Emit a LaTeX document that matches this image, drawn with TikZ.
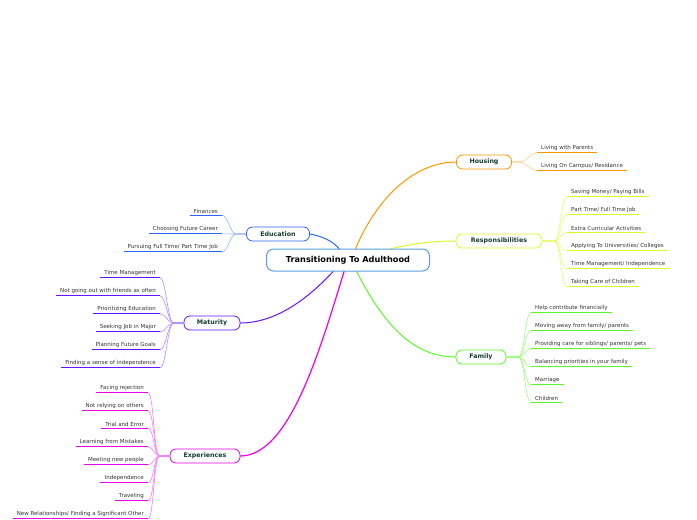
\documentclass[tikz,border=0pt]{standalone}
\usepackage{fontspec}
\setmainfont{DejaVu Sans}
\begin{document}
\begin{tikzpicture}[x=1pt,y=-1pt,
  mainbox/.style={draw=#1,line width=0.8pt,rounded corners=6pt,fill=white,minimum height=14pt,font=\fontsize{6.3}{7}\selectfont\bfseries,text=mtxt,inner xsep=8pt},
  leaf/.style={font=\fontsize{5.5}{6}\selectfont,text=black!80,inner sep=2pt,inner xsep=4pt},
  lnL/.style={draw=#1,line width=1.1pt},
  con/.style={draw=#1,line width=0.6pt}]
\useasboundingbox (0,0) rectangle (697,520);
\definecolor{mtxt}{RGB}{20,60,50}
\definecolor{cedu}{RGB}{40,100,255}
\definecolor{cmat}{RGB}{100,20,255}
\definecolor{cexp}{RGB}{235,0,235}
\definecolor{chou}{RGB}{255,150,0}
\definecolor{cres}{RGB}{220,250,40}
\definecolor{cfam}{RGB}{90,250,40}
\definecolor{ccen}{RGB}{90,160,225}
% main connectors
\draw[cedu,line width=1pt] (340,250) .. controls (333,240) and (320,236) .. (310,234);
\draw[cmat,line width=1pt] (345,258) .. controls (310,300) and (275,323) .. (240,323);
\draw[cexp,line width=1.2pt] (347,262) .. controls (320,350) and (290,456) .. (240,456);
\draw[chou,line width=1pt] (355,250) .. controls (380,190) and (420,162) .. (456,162);
\draw[cres,line width=1pt] (390,249) .. controls (410,244) and (430,241) .. (456,241);
\draw[cfam,line width=1pt] (352,262) .. controls (380,320) and (410,357) .. (456,357);
\node[draw=ccen,line width=1pt,rounded corners=7pt,fill=white,minimum width=163pt,minimum height=22pt,font=\fontsize{8.2}{9}\selectfont\bfseries] (c) at (348,260) {Transitioning To Adulthood};
\node[mainbox=cedu,minimum width=63pt] (edu) at (278,234) {Education};
\node[mainbox=cmat,minimum width=56pt] (mat) at (212,323) {Maturity};
\node[mainbox=cexp,minimum width=70pt] (exp) at (205,456) {Experiences};
\node[mainbox=chou,minimum width=55pt] (hou) at (484,162) {Housing};
\node[mainbox=cres,minimum width=86pt] (res) at (499,241) {Responsibilities};
\node[mainbox=cfam,minimum width=50pt] (fam) at (481,357) {Family};
% left leaves
\foreach \t/\y [count=\i] in {{Finances}/211,{Choosing Future Career}/229,{Pursuing Full Time/ Part Time Job}/247}{
  \node[leaf,anchor=east] (e\i) at (222,\y) {\t};
  \draw[lnL=cedu] (e\i.south west) -- (e\i.south east);
  \draw[con=cedu!50] (edu.west) -- ++(-10,0) .. controls +(-6,0) and +(6,0) .. (e\i.south east);
}
\foreach \t/\y [count=\i] in {{Time Management}/273,{Not going out with friends as often}/291,{Prioritizing Education}/309,{Seeking Job in Major}/327,{Planning Future Goals}/345,{Finding a sense of independence}/363}{
  \node[leaf,anchor=east] (m\i) at (160,\y) {\t};
  \draw[lnL=cmat] (m\i.south west) -- (m\i.south east);
  \draw[con=cmat!50] (mat.west) -- ++(-10,0) .. controls +(-6,0) and +(6,0) .. (m\i.south east);
}
\foreach \t/\y [count=\i] in {{Facing rejection}/388,{Not relying on others}/406,{Trial and Error}/424,{Learning from Mistakes}/442,{Meeting new people}/460,{Independence}/478,{Traveling}/496,{New Relationships/ Finding a Significant Other}/514}{
  \node[leaf,anchor=east] (x\i) at (148,\y) {\t};
  \draw[lnL=cexp] (x\i.south west) -- (x\i.south east);
  \draw[con=cexp!50] (exp.west) -- ++(-10,0) .. controls +(-6,0) and +(6,0) .. (x\i.south east);
}
% right leaves
\foreach \t/\y [count=\i] in {{Living with Parents}/148,{Living On Campus/ Residance}/166}{
  \node[leaf,anchor=west] (h\i) at (537,\y) {\t};
  \draw[lnL=chou] (h\i.south west) -- (h\i.south east);
  \draw[con=chou!50] (hou.east) -- ++(8,0) .. controls +(6,0) and +(-6,0) .. (h\i.south west);
}
\foreach \t/\y [count=\i] in {{Saving Money/ Paying Bills}/192,{Part Time/ Full Time Job}/210,{Extra Curricular Activities}/228,{Applying To Universities/ Colleges}/246,{Time Management/ Independence}/264,{Taking Care of Children}/282}{
  \node[leaf,anchor=west] (r\i) at (567,\y) {\t};
  \draw[lnL=cres] (r\i.south west) -- (r\i.south east);
  \draw[con=cres!70] (res.east) -- ++(12,0) .. controls +(6,0) and +(-6,0) .. (r\i.south west);
}
\foreach \t/\y [count=\i] in {{Help contribute financially}/308,{Moving away from family/ parents}/326,{Providing care for siblings/ parents/ pets}/344,{Balancing priorities in your family}/362,{Marriage}/380,{Children}/398}{
  \node[leaf,anchor=west] (f\i) at (531,\y) {\t};
  \draw[lnL=cfam] (f\i.south west) -- (f\i.south east);
  \draw[con=cfam!60] (fam.east) -- ++(12,0) .. controls +(6,0) and +(-6,0) .. (f\i.south west);
}
\end{tikzpicture}
\end{document}
